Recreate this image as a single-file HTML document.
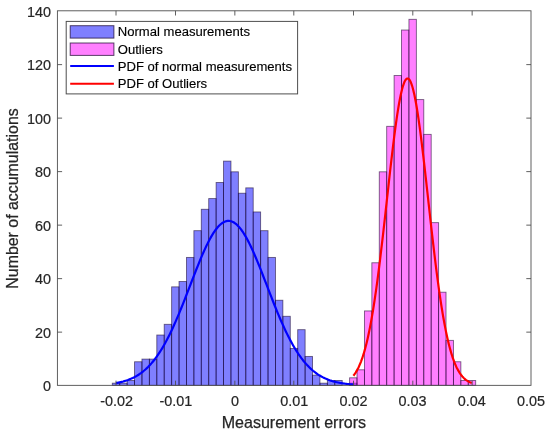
<!DOCTYPE html>
<html><head><meta charset="utf-8"><title>Histogram</title>
<style>html,body{margin:0;padding:0;background:#fff;}body{width:550px;height:434px;overflow:hidden;}svg{display:block;}</style>
</head><body>
<svg width="550" height="434" viewBox="0 0 550 434" font-family="'Liberation Sans', Arial, Helvetica, sans-serif">
<rect x="0" y="0" width="550" height="434" fill="#ffffff"/>
<g fill="rgba(0,0,255,0.5)" stroke="rgba(20,0,40,0.58)" stroke-width="0.9"><rect x="112.30" y="383.17" width="7.42" height="2.18"/><rect x="119.72" y="383.17" width="7.42" height="2.18"/><rect x="127.13" y="380.50" width="7.42" height="4.85"/><rect x="134.55" y="361.77" width="7.42" height="23.58"/><rect x="141.96" y="359.10" width="7.42" height="26.25"/><rect x="149.38" y="359.10" width="7.42" height="26.25"/><rect x="156.80" y="335.02" width="7.42" height="50.33"/><rect x="164.21" y="324.32" width="7.42" height="61.03"/><rect x="171.63" y="286.86" width="7.42" height="98.49"/><rect x="179.04" y="281.51" width="7.42" height="103.84"/><rect x="186.46" y="257.43" width="7.42" height="127.92"/><rect x="193.88" y="230.68" width="7.42" height="154.67"/><rect x="201.29" y="209.28" width="7.42" height="176.07"/><rect x="208.71" y="198.58" width="7.42" height="186.78"/><rect x="216.12" y="182.52" width="7.42" height="202.83"/><rect x="223.54" y="161.12" width="7.42" height="224.23"/><rect x="230.96" y="171.82" width="7.42" height="213.53"/><rect x="238.37" y="193.22" width="7.42" height="192.13"/><rect x="245.79" y="187.87" width="7.42" height="197.48"/><rect x="253.20" y="211.95" width="7.42" height="173.40"/><rect x="260.62" y="230.68" width="7.42" height="154.67"/><rect x="268.04" y="257.43" width="7.42" height="127.92"/><rect x="275.45" y="300.24" width="7.42" height="85.11"/><rect x="282.87" y="316.29" width="7.42" height="69.06"/><rect x="290.28" y="348.40" width="7.42" height="36.95"/><rect x="297.70" y="329.67" width="7.42" height="55.68"/><rect x="305.12" y="356.42" width="7.42" height="28.93"/><rect x="312.53" y="375.15" width="7.42" height="10.20"/><rect x="319.95" y="383.17" width="7.42" height="2.18"/><rect x="327.36" y="380.50" width="7.42" height="4.85"/><rect x="334.78" y="380.50" width="7.42" height="4.85"/><rect x="349.61" y="383.17" width="7.42" height="2.18"/></g>
<g fill="rgba(255,0,255,0.5)" stroke="rgba(20,0,40,0.58)" stroke-width="0.9"><rect x="349.61" y="377.82" width="7.42" height="7.53"/><rect x="357.03" y="369.80" width="7.42" height="15.55"/><rect x="364.44" y="310.94" width="7.42" height="74.41"/><rect x="371.86" y="262.78" width="7.42" height="122.57"/><rect x="379.28" y="171.82" width="7.42" height="213.53"/><rect x="386.69" y="126.34" width="7.42" height="259.01"/><rect x="394.11" y="75.51" width="7.42" height="309.84"/><rect x="401.52" y="30.03" width="7.42" height="355.32"/><rect x="408.94" y="19.33" width="7.42" height="366.02"/><rect x="416.36" y="99.59" width="7.42" height="285.76"/><rect x="423.77" y="134.37" width="7.42" height="250.98"/><rect x="431.19" y="222.65" width="7.42" height="162.70"/><rect x="438.60" y="292.21" width="7.42" height="93.14"/><rect x="446.02" y="340.37" width="7.42" height="44.98"/><rect x="453.44" y="361.77" width="7.42" height="23.58"/><rect x="460.85" y="380.50" width="7.42" height="4.85"/><rect x="468.27" y="380.50" width="7.42" height="4.85"/></g>
<polyline fill="none" stroke="#0000ff" stroke-width="2.2" stroke-linejoin="round" points="116.01,383.09 117.19,382.87 118.38,382.64 119.57,382.39 120.76,382.12 121.94,381.83 123.13,381.52 124.32,381.18 125.50,380.82 126.69,380.43 127.88,380.02 129.06,379.57 130.25,379.09 131.44,378.58 132.63,378.03 133.81,377.45 135.00,376.83 136.19,376.17 137.37,375.47 138.56,374.72 139.75,373.93 140.93,373.09 142.12,372.20 143.31,371.27 144.50,370.27 145.68,369.23 146.87,368.13 148.06,366.97 149.24,365.75 150.43,364.47 151.62,363.13 152.80,361.72 153.99,360.25 155.18,358.71 156.36,357.11 157.55,355.44 158.74,353.70 159.93,351.89 161.11,350.01 162.30,348.06 163.49,346.04 164.67,343.95 165.86,341.79 167.05,339.56 168.23,337.27 169.42,334.90 170.61,332.48 171.80,329.98 172.98,327.43 174.17,324.81 175.36,322.14 176.54,319.41 177.73,316.63 178.92,313.81 180.10,310.93 181.29,308.02 182.48,305.06 183.66,302.08 184.85,299.06 186.04,296.02 187.23,292.97 188.41,289.90 189.60,286.82 190.79,283.74 191.97,280.66 193.16,277.59 194.35,274.54 195.53,271.51 196.72,268.51 197.91,265.54 199.10,262.62 200.28,259.74 201.47,256.92 202.66,254.16 203.84,251.47 205.03,248.86 206.22,246.33 207.40,243.88 208.59,241.53 209.78,239.28 210.96,237.14 212.15,235.11 213.34,233.19 214.53,231.40 215.71,229.74 216.90,228.21 218.09,226.81 219.27,225.56 220.46,224.45 221.65,223.48 222.83,222.67 224.02,222.00 225.21,221.49 226.40,221.14 227.58,220.94 228.77,220.90 229.96,221.02 231.14,221.29 232.33,221.72 233.52,222.30 234.70,223.03 235.89,223.92 237.08,224.95 238.26,226.13 239.45,227.46 240.64,228.92 241.83,230.51 243.01,232.24 244.20,234.09 245.39,236.06 246.57,238.14 247.76,240.34 248.95,242.63 250.13,245.03 251.32,247.52 252.51,250.09 253.70,252.74 254.88,255.46 256.07,258.25 257.26,261.10 258.44,264.00 259.63,266.94 260.82,269.93 262.00,272.94 263.19,275.98 264.38,279.04 265.56,282.12 266.75,285.20 267.94,288.28 269.13,291.35 270.31,294.42 271.50,297.47 272.69,300.49 273.87,303.50 275.06,306.47 276.25,309.40 277.43,312.30 278.62,315.15 279.81,317.96 281.00,320.71 282.18,323.41 283.37,326.06 284.56,328.65 285.74,331.17 286.93,333.63 288.12,336.03 289.30,338.36 290.49,340.63 291.68,342.82 292.87,344.95 294.05,347.01 295.24,348.99 296.43,350.91 297.61,352.75 298.80,354.53 299.99,356.24 301.17,357.88 302.36,359.45 303.55,360.96 304.73,362.40 305.92,363.77 307.11,365.08 308.30,366.33 309.48,367.52 310.67,368.66 311.86,369.73 313.04,370.75 314.23,371.72 315.42,372.63 316.60,373.50 317.79,374.31 318.98,375.08 320.17,375.81 321.35,376.49 322.54,377.13 323.73,377.73 324.91,378.30 326.10,378.83 327.29,379.32 328.47,379.79 329.66,380.22 330.85,380.62 332.03,381.00 333.22,381.35 334.41,381.67 335.60,381.97 336.78,382.25 337.97,382.51 339.16,382.75 340.34,382.98 341.53,383.18 342.72,383.37 343.90,383.54 345.09,383.71 346.28,383.85 347.47,383.99 348.65,384.11 349.84,384.23 351.03,384.33 352.21,384.43 353.40,384.52"/>
<polyline fill="none" stroke="#ff0000" stroke-width="2.2" stroke-linejoin="round" points="353.40,375.71 353.99,374.96 354.58,374.16 355.18,373.30 355.77,372.39 356.36,371.42 356.95,370.40 357.54,369.31 358.14,368.16 358.73,366.94 359.32,365.64 359.91,364.28 360.50,362.84 361.10,361.32 361.69,359.72 362.28,358.03 362.87,356.26 363.46,354.40 364.06,352.45 364.65,350.40 365.24,348.26 365.83,346.02 366.42,343.68 367.02,341.23 367.61,338.68 368.20,336.02 368.79,333.25 369.38,330.38 369.98,327.39 370.57,324.29 371.16,321.08 371.75,317.76 372.34,314.32 372.94,310.77 373.53,307.11 374.12,303.33 374.71,299.45 375.30,295.45 375.90,291.34 376.49,287.13 377.08,282.82 377.67,278.41 378.26,273.89 378.86,269.28 379.45,264.59 380.04,259.80 380.63,254.94 381.22,249.99 381.82,244.98 382.41,239.90 383.00,234.76 383.59,229.57 384.18,224.33 384.78,219.05 385.37,213.75 385.96,208.42 386.55,203.07 387.14,197.72 387.74,192.37 388.33,187.04 388.92,181.72 389.51,176.43 390.10,171.19 390.70,165.99 391.29,160.86 391.88,155.79 392.47,150.80 393.06,145.90 393.66,141.10 394.25,136.42 394.84,131.85 395.43,127.41 396.02,123.11 396.62,118.96 397.21,114.96 397.80,111.14 398.39,107.48 398.98,104.02 399.58,100.74 400.17,97.67 400.76,94.80 401.35,92.15 401.94,89.71 402.54,87.50 403.13,85.53 403.72,83.79 404.31,82.29 404.90,81.03 405.50,80.02 406.09,79.27 406.68,78.76 407.27,78.51 407.86,78.51 408.46,78.76 409.05,79.27 409.64,80.02 410.23,81.03 410.82,82.29 411.42,83.79 412.01,85.53 412.60,87.50 413.19,89.71 413.78,92.15 414.38,94.80 414.97,97.67 415.56,100.74 416.15,104.02 416.74,107.48 417.34,111.14 417.93,114.96 418.52,118.96 419.11,123.11 419.70,127.41 420.30,131.85 420.89,136.42 421.48,141.10 422.07,145.90 422.66,150.80 423.26,155.79 423.85,160.86 424.44,165.99 425.03,171.19 425.62,176.43 426.22,181.72 426.81,187.04 427.40,192.37 427.99,197.72 428.58,203.07 429.18,208.42 429.77,213.75 430.36,219.05 430.95,224.33 431.54,229.57 432.14,234.76 432.73,239.90 433.32,244.98 433.91,249.99 434.50,254.94 435.10,259.80 435.69,264.59 436.28,269.28 436.87,273.89 437.46,278.41 438.06,282.82 438.65,287.13 439.24,291.34 439.83,295.45 440.42,299.45 441.02,303.33 441.61,307.11 442.20,310.77 442.79,314.32 443.38,317.76 443.98,321.08 444.57,324.29 445.16,327.39 445.75,330.38 446.34,333.25 446.94,336.02 447.53,338.68 448.12,341.23 448.71,343.68 449.30,346.02 449.90,348.26 450.49,350.40 451.08,352.45 451.67,354.40 452.26,356.26 452.86,358.03 453.45,359.72 454.04,361.32 454.63,362.84 455.22,364.28 455.82,365.64 456.41,366.94 457.00,368.16 457.59,369.31 458.18,370.40 458.78,371.42 459.37,372.39 459.96,373.30 460.55,374.16 461.14,374.96 461.74,375.71 462.33,376.42 462.92,377.08 463.51,377.70 464.10,378.27 464.70,378.81 465.29,379.32 465.88,379.79 466.47,380.22 467.06,380.63 467.66,381.01 468.25,381.36 468.84,381.69 469.43,381.99 470.02,382.27 470.62,382.53 471.21,382.76 471.80,382.99"/>
<g stroke="#4e4e4e" stroke-width="0.9" fill="none">
<rect x="57.4" y="10.8" width="473.6" height="374.55"/>
<line x1="116.00" y1="385.35" x2="116.00" y2="380.65000000000003"/>
<line x1="116.00" y1="10.8" x2="116.00" y2="15.5"/>
<line x1="175.50" y1="385.35" x2="175.50" y2="380.65000000000003"/>
<line x1="175.50" y1="10.8" x2="175.50" y2="15.5"/>
<line x1="234.85" y1="385.35" x2="234.85" y2="380.65000000000003"/>
<line x1="234.85" y1="10.8" x2="234.85" y2="15.5"/>
<line x1="293.80" y1="385.35" x2="293.80" y2="380.65000000000003"/>
<line x1="293.80" y1="10.8" x2="293.80" y2="15.5"/>
<line x1="353.50" y1="385.35" x2="353.50" y2="380.65000000000003"/>
<line x1="353.50" y1="10.8" x2="353.50" y2="15.5"/>
<line x1="412.80" y1="385.35" x2="412.80" y2="380.65000000000003"/>
<line x1="412.80" y1="10.8" x2="412.80" y2="15.5"/>
<line x1="472.15" y1="385.35" x2="472.15" y2="380.65000000000003"/>
<line x1="472.15" y1="10.8" x2="472.15" y2="15.5"/>
<line x1="57.4" y1="332.14" x2="62.1" y2="332.14"/>
<line x1="531.0" y1="332.14" x2="526.3" y2="332.14"/>
<line x1="57.4" y1="278.64" x2="62.1" y2="278.64"/>
<line x1="531.0" y1="278.64" x2="526.3" y2="278.64"/>
<line x1="57.4" y1="225.13" x2="62.1" y2="225.13"/>
<line x1="531.0" y1="225.13" x2="526.3" y2="225.13"/>
<line x1="57.4" y1="171.62" x2="62.1" y2="171.62"/>
<line x1="531.0" y1="171.62" x2="526.3" y2="171.62"/>
<line x1="57.4" y1="118.11" x2="62.1" y2="118.11"/>
<line x1="531.0" y1="118.11" x2="526.3" y2="118.11"/>
<line x1="57.4" y1="64.61" x2="62.1" y2="64.61"/>
<line x1="531.0" y1="64.61" x2="526.3" y2="64.61"/>
</g>
<g fill="#262626" font-size="14.4" stroke="#262626" stroke-width="0.2">
<text x="116.60" y="406.3" text-anchor="middle">-0.02</text>
<text x="175.80" y="406.3" text-anchor="middle">-0.01</text>
<text x="235.00" y="406.3" text-anchor="middle">0</text>
<text x="294.20" y="406.3" text-anchor="middle">0.01</text>
<text x="353.40" y="406.3" text-anchor="middle">0.02</text>
<text x="412.60" y="406.3" text-anchor="middle">0.03</text>
<text x="471.80" y="406.3" text-anchor="middle">0.04</text>
<text x="531.00" y="406.3" text-anchor="middle">0.05</text>
<text x="51.0" y="391.35" text-anchor="end">0</text>
<text x="51.0" y="337.84" text-anchor="end">20</text>
<text x="51.0" y="284.34" text-anchor="end">40</text>
<text x="51.0" y="230.83" text-anchor="end">60</text>
<text x="51.0" y="177.32" text-anchor="end">80</text>
<text x="51.0" y="123.81" text-anchor="end">100</text>
<text x="51.0" y="70.31" text-anchor="end">120</text>
<text x="51.0" y="16.80" text-anchor="end">140</text>
</g>
<text x="221.7" y="427.7" font-size="15.85" stroke="#262626" stroke-width="0.25" fill="#262626" textLength="144.4" lengthAdjust="spacingAndGlyphs">Measurement errors</text>
<text transform="translate(17.9,288.7) rotate(-90)" font-size="15.85" stroke="#262626" stroke-width="0.25" fill="#262626" textLength="180.4" lengthAdjust="spacingAndGlyphs">Number of accumulations</text>
<rect x="66.2" y="21.4" width="231.40000000000003" height="72.5" fill="#ffffff" stroke="#4e4e4e" stroke-width="1"/>
<rect x="70.2" y="25.7" width="43.7" height="12.4" fill="rgba(0,0,255,0.5)" stroke="rgba(20,0,40,0.7)" stroke-width="1"/>
<rect x="70.2" y="43.0" width="43.7" height="12.4" fill="rgba(255,0,255,0.5)" stroke="rgba(20,0,40,0.7)" stroke-width="1"/>
<line x1="70.2" y1="66.1" x2="113.9" y2="66.1" stroke="#0000ff" stroke-width="2"/>
<line x1="70.2" y1="83.7" x2="113.9" y2="83.7" stroke="#ff0000" stroke-width="2"/>
<g fill="#000000" font-size="13.07" stroke="#000000" stroke-width="0.15">
<text x="117.8" y="36.4">Normal measurements</text>
<text x="117.8" y="53.7">Outliers</text>
<text x="117.8" y="70.8">PDF of normal measurements</text>
<text x="117.8" y="88.4">PDF of Outliers</text>
</g>
</svg>
</body></html>
